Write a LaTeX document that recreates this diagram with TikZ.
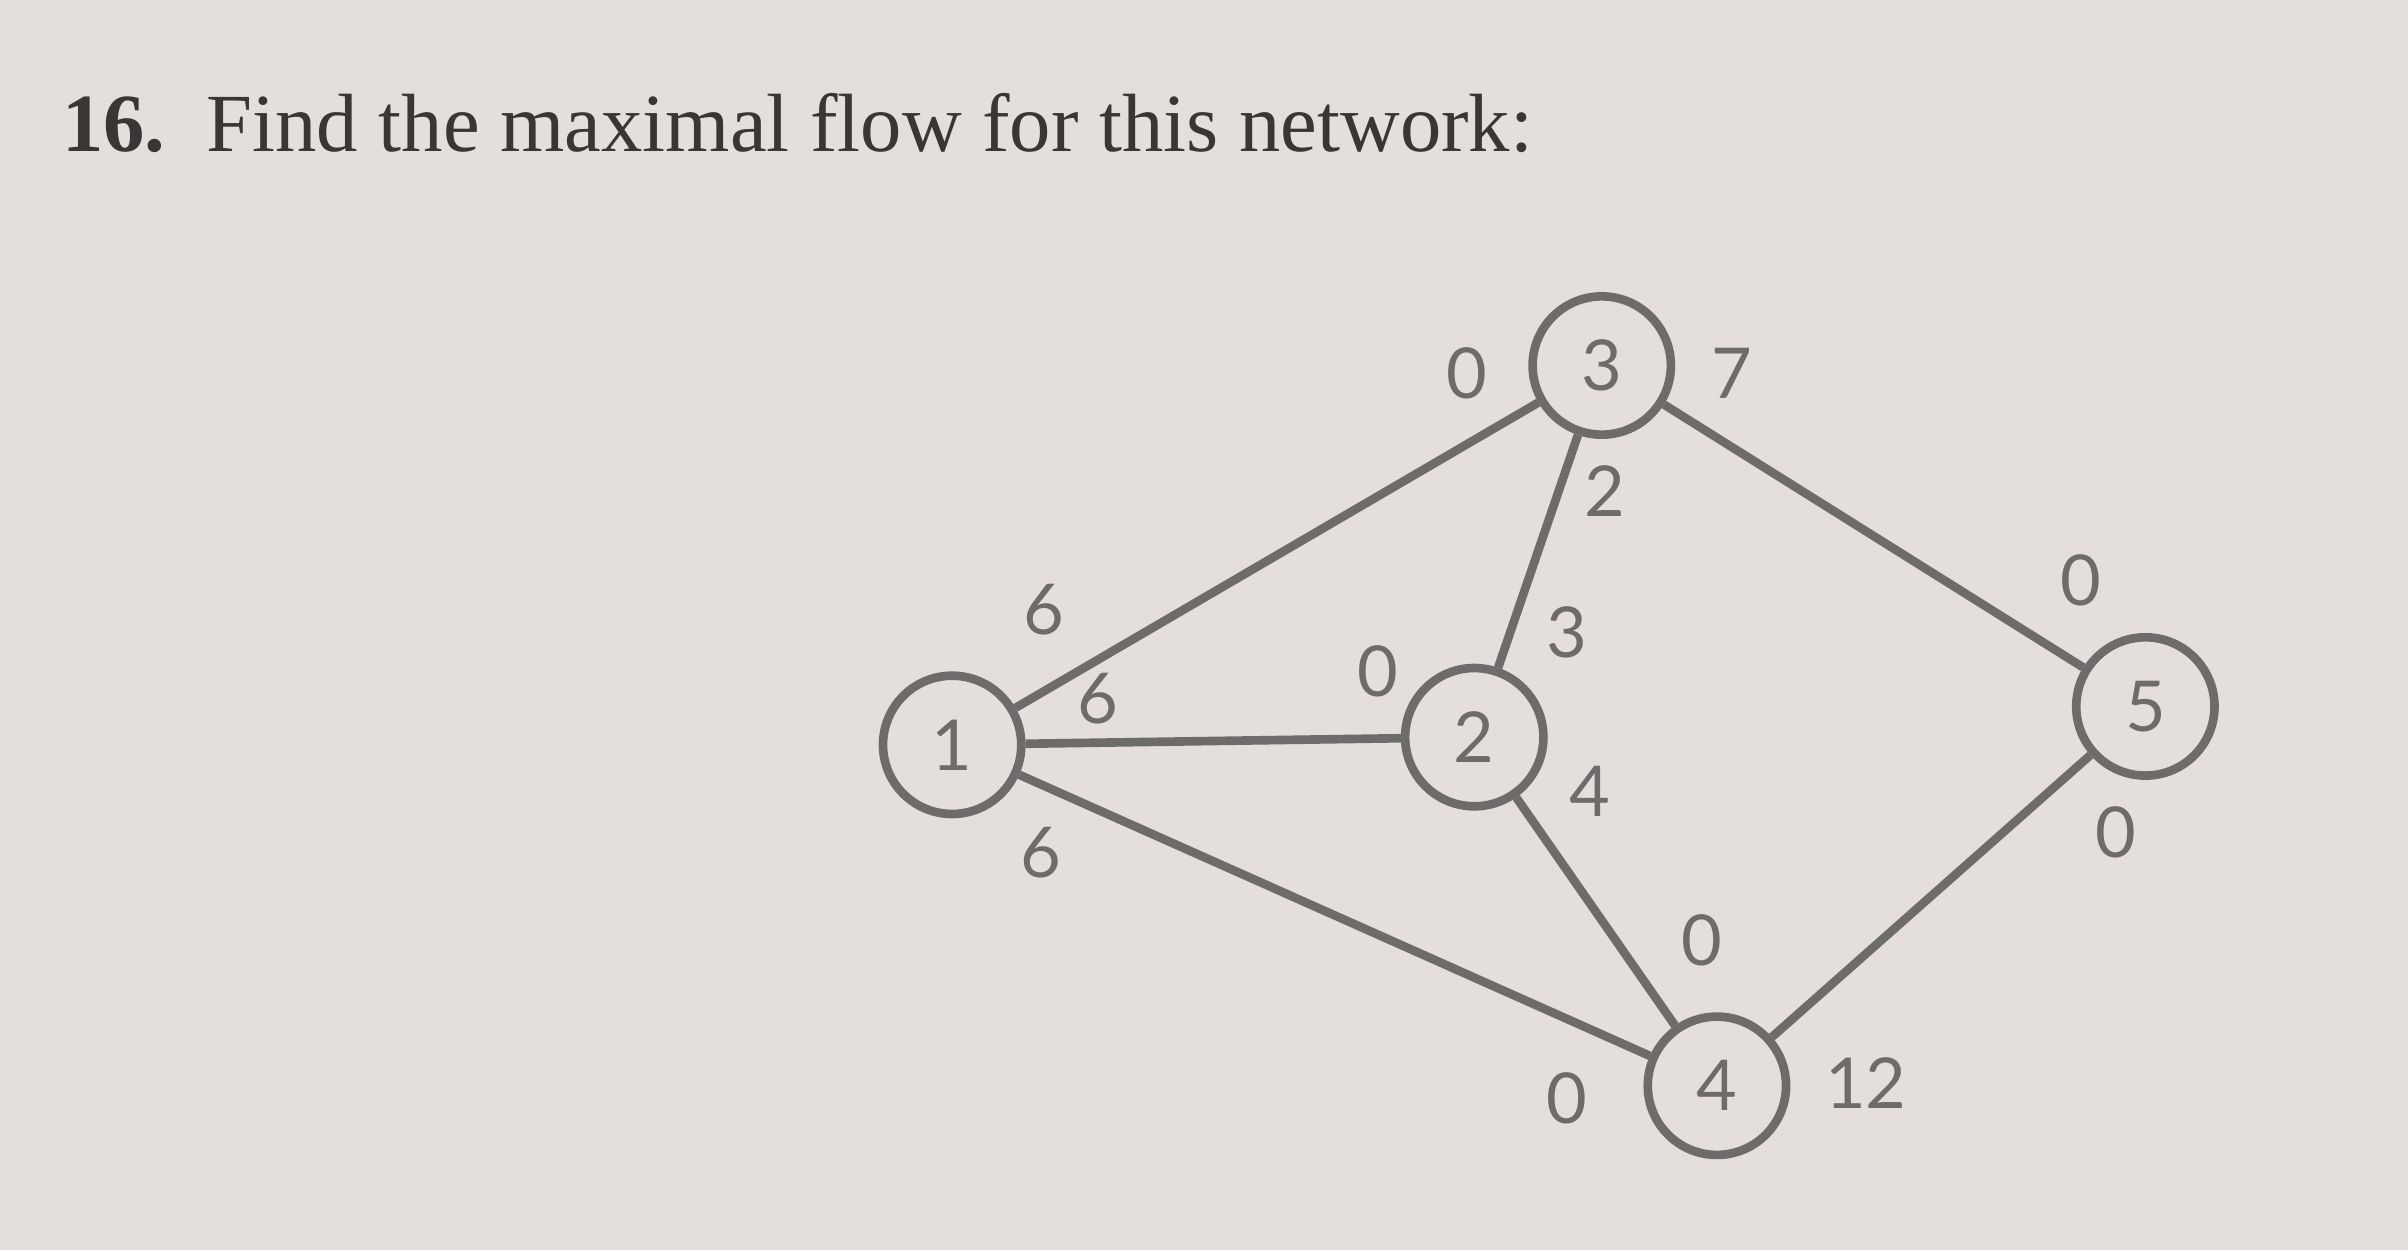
\documentclass[tikz,border=0pt]{standalone}
\usepackage{fontspec}
\setmainfont{Liberation Serif}
\newfontfamily\numfont{Lato}
\definecolor{paper}{HTML}{E4DFDD}
\definecolor{ink}{HTML}{6E6B6B}
\definecolor{titleink}{HTML}{3A3636}
\tikzset{
  vertex/.style={circle, draw=ink, line width=1.6pt, minimum size=0.9cm, inner sep=0pt,
    text=ink, font=\numfont\fontsize{13}{13}\selectfont},
  edge/.style={draw=ink, line width=1.6pt},
  weight/.style={text=ink, font=\numfont\fontsize{13}{13}\selectfont}
}
\begin{document}
\begin{tikzpicture}[x=0.01cm,y=-0.01cm]
\fill[paper] (0,0) rectangle (1568,814);
\useasboundingbox (0,0) rectangle (1568,814);

% title
\node (title) [anchor=west, text=titleink, font=\fontsize{15.3}{15.3}\selectfont] at (28,80)
  {\textbf{16.}\enspace Find the maximal flow for this network:};

% vertices
\node (n1) [vertex] at (620,485) {1};
\node (n2) [vertex] at (960,480) {2};
\node (n3) [vertex] at (1043,238) {3};
\node (n4) [vertex] at (1118,707) {4};
\node (n5) [vertex] at (1397,460) {5};

% edges
\path [edge] (n1) -- (n3);
\path [edge] (n1) -- (n2);
\path [edge] (n1) -- (n4);
\path [edge] (n2) -- (n3);
\path [edge] (n2) -- (n4);
\path [edge] (n3) -- (n5);
\path [edge] (n4) -- (n5);

% capacities
\node (c30) [weight] at (955,243) {0};
\node (c35) [weight] at (1128,243) {7};
\node (c32) [weight] at (1045,320) {2};
\node (c13) [weight] at (680,397) {6};
\node (c12) [weight] at (715,455) {6};
\node (c21) [weight] at (897,437) {0};
\node (c23) [weight] at (1020,412) {3};
\node (c24) [weight] at (1035,515) {4};
\node (c14) [weight] at (678,555) {6};
\node (c42) [weight] at (1108,612) {0};
\node (c41) [weight] at (1020,715) {0};
\node (c45) [weight] at (1215,705) {12};
\node (c53) [weight] at (1355,378) {0};
\node (c54) [weight] at (1378,542) {0};
\end{tikzpicture}
\end{document}
